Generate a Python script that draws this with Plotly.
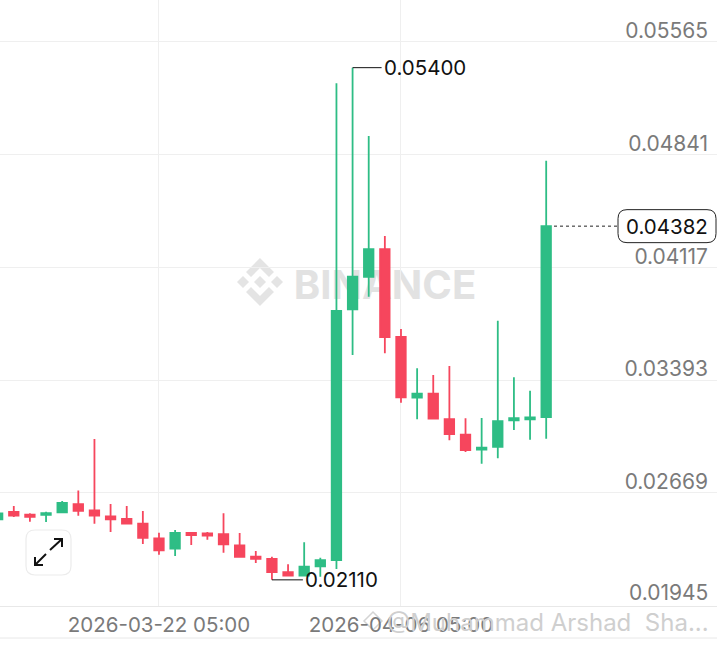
import plotly.graph_objects as go

# ============================================================
# 1. Data candle harian
# ============================================================
dates = [
    '2026-03-12 05:00', '2026-03-13 05:00', '2026-03-14 05:00', '2026-03-15 05:00', '2026-03-16 05:00',
    '2026-03-17 05:00', '2026-03-18 05:00', '2026-03-19 05:00', '2026-03-20 05:00', '2026-03-21 05:00',
    '2026-03-22 05:00', '2026-03-23 05:00', '2026-03-24 05:00', '2026-03-25 05:00', '2026-03-26 05:00',
    '2026-03-27 05:00', '2026-03-28 05:00', '2026-03-29 05:00', '2026-03-30 05:00', '2026-03-31 05:00',
    '2026-04-01 05:00', '2026-04-02 05:00', '2026-04-03 05:00', '2026-04-04 05:00', '2026-04-05 05:00',
    '2026-04-06 05:00', '2026-04-07 05:00', '2026-04-08 05:00', '2026-04-09 05:00', '2026-04-10 05:00',
    '2026-04-11 05:00', '2026-04-12 05:00', '2026-04-13 05:00', '2026-04-14 05:00', '2026-04-15 05:00',
]
opens = [
    0.02499, 0.02546, 0.02528, 0.02528, 0.02544, 0.02597, 0.02556, 0.02518, 0.02501, 0.02471,
    0.02377, 0.02310, 0.02411, 0.02409, 0.02403, 0.02332, 0.02259, 0.02244, 0.02160, 0.02137,
    0.02197, 0.02237, 0.03848, 0.04057, 0.04235, 0.03670, 0.03280, 0.03306, 0.03143, 0.03042,
    0.02946, 0.02965, 0.03135, 0.03141, 0.03156,
]
highs = [
    0.02542, 0.02584, 0.02537, 0.02548, 0.02616, 0.02684, 0.03015, 0.02597, 0.02584, 0.02552,
    0.02413, 0.02430, 0.02413, 0.02417, 0.02537, 0.02411, 0.02295, 0.02258, 0.02210, 0.02351,
    0.02252, 0.05300, 0.05400, 0.04961, 0.04319, 0.03721, 0.03469, 0.03426, 0.03484, 0.03148,
    0.03150, 0.03775, 0.03411, 0.03325, 0.04802,
]
lows = [
    0.02494, 0.02514, 0.02483, 0.02481, 0.02539, 0.02522, 0.02471, 0.02417, 0.02469, 0.02340,
    0.02271, 0.02263, 0.02334, 0.02368, 0.02284, 0.02255, 0.02219, 0.02110, 0.02135, 0.02135,
    0.02130, 0.02179, 0.03554, 0.03929, 0.03565, 0.03248, 0.03141, 0.03145, 0.03006, 0.02931,
    0.02856, 0.02891, 0.03072, 0.03010, 0.03017,
]
closes = [
    0.02537, 0.02522, 0.02515, 0.02539, 0.02604, 0.02554, 0.02522, 0.02499, 0.02471, 0.02379,
    0.02300, 0.02411, 0.02398, 0.02394, 0.02338, 0.02257, 0.02245, 0.02160, 0.02137, 0.02194,
    0.02237, 0.03837, 0.04057, 0.04235, 0.03670, 0.03282, 0.03306, 0.03145, 0.03047, 0.02944,
    0.02959, 0.03130, 0.03148, 0.03154, 0.04382,
]

y_ticks = [0.05565, 0.04841, 0.04117, 0.03393, 0.02669, 0.01945]
x_ticks = ['2026-03-22 05:00', '2026-04-06 05:00']

high_date, high_price = '2026-04-03 05:00', 0.05400
low_date, low_price = '2026-03-29 05:00', 0.02110
last_price = 0.04382

W, H = 717, 646
FONT = 'Inter'
GRID = '#efefef'
AXIS_TEXT = '#7a7a7a'


# posisi piksel gambar -> koordinat paper
def px(x):
    return x / W


def py(y):
    return 1 - y / H


def poly(points, close=True):
    d = ' '.join(('M' if i == 0 else 'L') + f'{px(x):.5f},{py(y):.5f}' for i, (x, y) in enumerate(points))
    return d + (' Z' if close else '')


def deco(path, fill=None, line=None, width=1, layer='below'):
    return dict(type='path', xref='paper', yref='paper', path=path, fillcolor=fill,
                line=dict(color=line, width=width if line else 0), layer=layer)


# ============================================================
# 2. Candlestick
# ============================================================
fig = go.Figure(go.Candlestick(
    x=dates, open=opens, high=highs, low=lows, close=closes,
    increasing=dict(line=dict(color='#2EBD85', width=1.8), fillcolor='#2EBD85'),
    decreasing=dict(line=dict(color='#F6465D', width=1.8), fillcolor='#F6465D'),
    whiskerwidth=0,
))

# ============================================================
# 3. Watermark dan tombol (dekorasi)
# ============================================================
lx, ly = 260, 282
logo = [
    [(lx, ly - 6), (lx + 6, ly), (lx, ly + 6), (lx - 6, ly)],
    [(lx - 17, ly - 6), (lx - 11, ly), (lx - 17, ly + 6), (lx - 23, ly)],
    [(lx + 17, ly - 6), (lx + 23, ly), (lx + 17, ly + 6), (lx + 11, ly)],
    [(lx, ly - 24), (lx + 14, ly - 10), (lx + 9, ly - 5), (lx, ly - 14), (lx - 9, ly - 5), (lx - 14, ly - 10)],
    [(lx, ly + 24), (lx + 14, ly + 10), (lx + 9, ly + 5), (lx, ly + 14), (lx - 9, ly + 5), (lx - 14, ly + 10)],
]
shapes = [deco(poly(p), fill='#e4e4e4') for p in logo]

shapes.append(dict(
    type='rect', xref='paper', yref='paper', x0=px(285), x1=px(485), y0=py(305), y1=py(262),
    line=dict(width=0), layer='below',
    label=dict(text='<b>BINANCE</b>', font=dict(family=FONT, size=40, color='#e2e2e2'),
               textposition='middle center'),
))

# garis bawah sumbu x
shapes.append(dict(type='line', xref='paper', yref='paper', x0=0, x1=1, y0=py(638), y1=py(638),
                   line=dict(color='#e8e8e8', width=1), layer='below'))

# tombol expand
bx0, bx1, by0, by1, r = 26, 71, 530, 575, 9
button = (
    f'M{px(bx0 + r)},{py(by0)} L{px(bx1 - r)},{py(by0)} Q{px(bx1)},{py(by0)} {px(bx1)},{py(by0 + r)} '
    f'L{px(bx1)},{py(by1 - r)} Q{px(bx1)},{py(by1)} {px(bx1 - r)},{py(by1)} '
    f'L{px(bx0 + r)},{py(by1)} Q{px(bx0)},{py(by1)} {px(bx0)},{py(by1 - r)} '
    f'L{px(bx0)},{py(by0 + r)} Q{px(bx0)},{py(by0)} {px(bx0 + r)},{py(by0)} Z'
)
shapes.append(deco(button, fill='white', line='#ececec', width=1.2, layer='above'))
for seg in [
    [(50, 550), (62, 539)], [(54, 539), (62, 539), (62, 547)],
    [(46, 554), (35, 565)], [(35, 557), (35, 565), (43, 565)],
]:
    shapes.append(deco(poly(seg, close=False), line='#111111', width=2, layer='above'))

# ikon kecil watermark bawah
shapes.append(deco(poly([(373, 612), (382, 621), (373, 630), (364, 621)]), line='#d4d4d4', width=1.5))

# ============================================================
# 4. Penanda harga terakhir
# ============================================================
shapes.append(dict(type='line', xref='paper', yref='y', x0=px(554), x1=px(618),
                   y0=last_price, y1=last_price, layer='above',
                   line=dict(color='#222222', width=1, dash='3px,3px')))
lbl_x0, lbl_x1, hh, r = 618, 716, 16.5, 9
label_box = (
    f'M{lbl_x0 + r},{hh} L{lbl_x1 - r},{hh} Q{lbl_x1},{hh} {lbl_x1},{hh - r} '
    f'L{lbl_x1},{-hh + r} Q{lbl_x1},{-hh} {lbl_x1 - r},{-hh} '
    f'L{lbl_x0 + r},{-hh} Q{lbl_x0},{-hh} {lbl_x0},{-hh + r} '
    f'L{lbl_x0},{hh - r} Q{lbl_x0},{hh} {lbl_x0 + r},{hh} Z'
)
shapes.append(dict(type='path', xref='paper', yref='y', xsizemode='pixel', ysizemode='pixel',
                   xanchor=0, yanchor=last_price, path=label_box, fillcolor='white',
                   line=dict(color='#222222', width=1), layer='above'))

annotations = [
    dict(xref='paper', yref='y', x=px(667), y=last_price, xanchor='center', text=f'{last_price:.5f}',
         showarrow=False, font=dict(family=FONT, size=20.5, color='#111111')),
    dict(x=high_date, y=high_price, text=f'{high_price:.5f}', xanchor='left', showarrow=True, arrowhead=0,
         ax=29, ay=0, arrowwidth=1, arrowcolor='#111111', font=dict(family=FONT, size=20.5, color='#111111')),
    dict(x=low_date, y=low_price, text=f'{low_price:.5f}', xanchor='left', showarrow=True, arrowhead=0,
         ax=31, ay=0, arrowwidth=1, arrowcolor='#111111', font=dict(family=FONT, size=20.5, color='#111111')),
    dict(xref='paper', yref='paper', x=px(711), y=py(622), xanchor='right', yanchor='middle', showarrow=False,
         text='@Muhammad Arshad  Sha...', font=dict(family=FONT, size=24, color='#cfcfcf')),
    # label sumbu paling bawah disembunyikan plotly kalau inside, jadi ditulis manual
    dict(xref='paper', yref='y', x=px(710), y=y_ticks[-1], xanchor='right', yanchor='middle', yshift=13,
         showarrow=False, text=f'{y_ticks[-1]:.5f}', font=dict(family=FONT, size=21, color=AXIS_TEXT)),
]

# ============================================================
# 5. Layout
# ============================================================
fig.update_layout(
    width=W,
    height=H,
    margin=dict(l=0, r=0, t=0, b=0),
    paper_bgcolor='white',
    plot_bgcolor='white',
    showlegend=False,
    boxgap=0.16,
    font=dict(family=FONT, color=AXIS_TEXT, size=20),
    shapes=shapes,
    annotations=annotations,
    xaxis=dict(
        type='date',
        range=['2026-03-12 08:30', '2026-04-25 19:06'],
        rangeslider=dict(visible=False),
        tickmode='array',
        tickvals=x_ticks,
        tickformat='%Y-%m-%d %H:%M',
        tickfont=dict(family=FONT, size=20.5, color=AXIS_TEXT),
        ticks='',
        ticklabelstandoff=0,
        showgrid=True,
        gridcolor=GRID,
        showline=True,
        linecolor='#e8e8e8',
        zeroline=False,
        anchor='y',
    ),
    yaxis=dict(
        domain=[1 - 606 / H, 1],
        range=[0.01942, 0.058347],
        side='right',
        tickmode='array',
        tickvals=y_ticks,
        tickformat='.5f',
        tickfont=dict(family=FONT, size=21, color=AXIS_TEXT),
        ticks='',
        ticklabelposition='inside',
        ticklabelshift=-11,
        ticklabelstandoff=6,
        showgrid=True,
        gridcolor=GRID,
        zeroline=False,
        showline=False,
        anchor='x',
    ),
)

fig.write_html(
    "out.html",
    config={'displayModeBar': False},
    post_script="document.body.style.margin='0';document.body.style.overflow='hidden';",
)
